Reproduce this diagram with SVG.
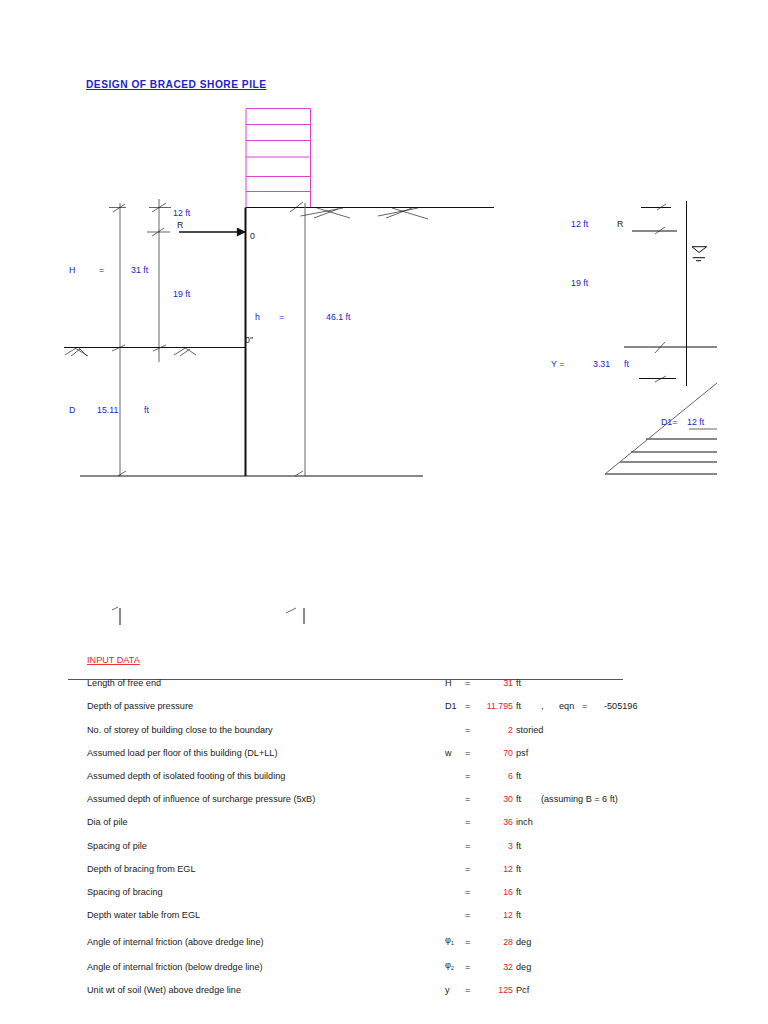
<svg xmlns="http://www.w3.org/2000/svg" width="768" height="1024" viewBox="0 0 768 1024">
<style>
text{font-family:"Liberation Sans",Arial,sans-serif;font-size:8.8px;fill:#222}
#input-table text{font-size:9.15px;fill:#1a1a1a}
#input-table text.r{font-size:8.8px;fill:#e8202a}
#input-table text.h{font-size:9.15px}
.b{fill:#2222cc}
.r{fill:#e8202a}
.e{text-anchor:end}
.k{stroke:#111;stroke-width:1;fill:none}
.g{stroke:#666;stroke-width:1;fill:none}
.p{stroke:#e040d0;stroke-width:1;fill:none}
.t{stroke:#222;stroke-width:.7;fill:none}
</style>
<defs>
<marker id="ah" viewBox="0 0 10 10" refX="9" refY="5" markerWidth="10" markerHeight="9" markerUnits="userSpaceOnUse" orient="auto"><path d="M0 0L10 5L0 10z" fill="#111"/></marker>
</defs>
<text x="86" y="88" class="b" style="font-size:10.2px;font-weight:bold;letter-spacing:.5px;text-decoration:underline">DESIGN OF BRACED SHORE PILE </text>
<g id="building">
<path class="p" d="M246 108.5H310.5V207.5M246 108.5V207.5M246 124.5H310.5M246 140.5H310.5M245.500 157H309M246 176.500H310.500M246 191.500H310.500"/>
</g>
<g id="connectors">
<path class="k" d="M246 207.500H494"/>
<path d="M245.500 207.500V476" stroke="#111" stroke-width="2" fill="none"/>
<path class="g" d="M120 203V476M159 199V362M305 203V476"/>
<path class="k" d="M80 476H423M64 347.500H245"/>
<path class="t" d="M109 207.500H126M113 212L125 204M149 207.500H171M152 212L166 203M147 232H170M152 236L164 228M290 212L303 202M300.500 216L343 208M317 208L350 218M314 218L338 209M378 216L418 208M392 208L428 219M386 218L412 208M65 355L76 348M71 356L80 349M75 348L88 356M79 348L87 356M112 351L125 345M153 351L166 345M174 355L187 347M180 356L190 349M184 347L196 355M118 476L126 471M295 476L303 471"/>
<path d="M179 232H245" stroke="#111" stroke-width="1.500" fill="none" marker-end="url(#ah)"/>
<path class="k" d="M686.500 201V386M624 347H717M639 378.500H676M641 207.500H671M632 231H677M605 474H717M620 462H717M631 452H717M646 439H717" stroke-width=".9"/>
<path class="g" d="M689 429H717M605 474L717 383"/>
<path class="t" d="M657 210L666 204M655 234L665 227M655 353L665 342M655 382L666 376"/>
<path class="k" d="M692 246.700H706.700L699 252.500ZM692.700 257.700H705M696 260.700H701" stroke-width=".8"/>
<path class="k" d="M120 608V625M304 608V624" stroke-width="1"/>
<path class="t" d="M112 610L118 607M286 613L296 608"/>
<path d="M68 679.500H623" stroke="#555" stroke-width="1.200"/>
</g>
<g id="diagram-labels">
<text x="173" y="216" class="b">12 ft</text>
<text x="177" y="228">R</text>
<text x="250" y="239">0</text>
<text x="69" y="273" class="b">H</text>
<text x="99" y="273" class="b">=</text>
<text x="131" y="273" class="b">31 ft</text>
<text x="173" y="297" class="b">19 ft</text>
<text x="255" y="320" class="b">h</text>
<text x="279" y="320" class="b">=</text>
<text x="326" y="320" class="b">46.1 ft</text>
<text x="245" y="343">0"</text>
<text x="69" y="413" class="b">D</text>
<text x="97" y="413" class="b">15.11</text>
<text x="144" y="413" class="b">ft</text>
<text x="571" y="227" class="b">12 ft</text>
<text x="617" y="227">R</text>
<text x="571" y="286" class="b">19 ft</text>
<text x="551" y="367" class="b">Y =</text>
<text x="593" y="367" class="b">3.31</text>
<text x="624" y="367" class="b">ft</text>
<text x="661" y="425" class="b">D1=</text>
<text x="687" y="425" class="b">12 ft</text>
</g>
<g id="input-table">
<text x="87" y="663" class="r h" style="text-decoration:underline">INPUT DATA</text>
<text x="87" y="686">Length of free end</text>
<text x="445" y="686">H</text><text x="465" y="686">=</text><text x="513" y="686" class="r e">31</text><text x="516" y="686">ft</text>
<text x="87" y="709">Depth of passive pressure</text>
<text x="445" y="709">D1</text><text x="465" y="709">=</text><text x="513" y="709" class="r e">11.795</text><text x="516" y="709">ft</text><text x="541" y="709">,</text><text x="559" y="709">eqn</text><text x="582" y="709">=</text><text x="604" y="709">-505196</text>
<text x="87" y="733">No. of storey of building close to the boundary</text>
<text x="465" y="733">=</text><text x="513" y="733" class="r e">2</text><text x="516" y="733">storied</text>
<text x="87" y="756">Assumed load per floor of this building (DL+LL)</text>
<text x="445" y="756">w</text><text x="465" y="756">=</text><text x="513" y="756" class="r e">70</text><text x="516" y="756">psf</text>
<text x="87" y="779">Assumed depth of isolated footing of this building</text>
<text x="465" y="779">=</text><text x="513" y="779" class="r e">6</text><text x="516" y="779">ft</text>
<text x="87" y="802">Assumed depth of influence of surcharge pressure (5xB)</text>
<text x="465" y="802">=</text><text x="513" y="802" class="r e">30</text><text x="516" y="802">ft</text><text x="541" y="802">(assuming B = 6 ft)</text>
<text x="87" y="825">Dia of pile</text>
<text x="465" y="825">=</text><text x="513" y="825" class="r e">36</text><text x="516" y="825">inch</text>
<text x="87" y="849">Spacing of pile</text>
<text x="465" y="849">=</text><text x="513" y="849" class="r e">3</text><text x="516" y="849">ft</text>
<text x="87" y="872">Depth of bracing from EGL</text>
<text x="465" y="872">=</text><text x="513" y="872" class="r e">12</text><text x="516" y="872">ft</text>
<text x="87" y="895">Spacing of bracing</text>
<text x="465" y="895">=</text><text x="513" y="895" class="r e">16</text><text x="516" y="895">ft</text>
<text x="87" y="918">Depth water table from EGL</text>
<text x="465" y="918">=</text><text x="513" y="918" class="r e">12</text><text x="516" y="918">ft</text>
<text x="87" y="945">Angle of internal friction (above dredge line)</text>
<text x="445" y="943">φ<tspan dy="2" style="font-size:5px">1</tspan></text><text x="465" y="945">=</text><text x="513" y="945" class="r e">28</text><text x="516" y="945">deg</text>
<text x="87" y="970">Angle of internal friction (below dredge line)</text>
<text x="445" y="968">φ<tspan dy="2" style="font-size:5px">2</tspan></text><text x="465" y="970">=</text><text x="513" y="970" class="r e">32</text><text x="516" y="970">deg</text>
<text x="87" y="993">Unit wt of soil (Wet) above dredge line</text>
<text x="445" y="993">y</text><text x="465" y="993">=</text><text x="513" y="993" class="r e">125</text><text x="516" y="993">Pcf</text>
</g>
</svg>
